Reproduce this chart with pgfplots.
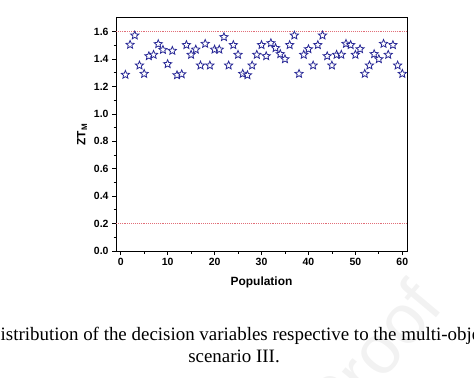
\documentclass[border=0pt]{standalone}
\usepackage{pgfplots}
\pgfplotsset{compat=1.18}
\usepackage{fontspec}
\setmainfont{Liberation Serif}
\setsansfont{Liberation Sans}
\definecolor{starblue}{RGB}{40,40,150}
\definecolor{bndred}{RGB}{225,110,120}
\pgfdeclareplotmark{ostar}{%
  \pgfpathmoveto{\pgfpointpolar{90}{\pgfplotmarksize}}%
  \pgfpathlineto{\pgfpointpolar{126}{0.45\pgfplotmarksize}}%
  \pgfpathlineto{\pgfpointpolar{162}{\pgfplotmarksize}}%
  \pgfpathlineto{\pgfpointpolar{198}{0.45\pgfplotmarksize}}%
  \pgfpathlineto{\pgfpointpolar{234}{\pgfplotmarksize}}%
  \pgfpathlineto{\pgfpointpolar{270}{0.45\pgfplotmarksize}}%
  \pgfpathlineto{\pgfpointpolar{306}{\pgfplotmarksize}}%
  \pgfpathlineto{\pgfpointpolar{342}{0.45\pgfplotmarksize}}%
  \pgfpathlineto{\pgfpointpolar{18}{\pgfplotmarksize}}%
  \pgfpathlineto{\pgfpointpolar{54}{0.45\pgfplotmarksize}}%
  \pgfpathclose
  \pgfusepathqfillstroke
}
\pgfplotstableread{
p v
1 1.286
2 1.505
3 1.573
4 1.354
5 1.293
6 1.422
7 1.432
8 1.510
9 1.468
10 1.364
11 1.461
12 1.283
13 1.290
14 1.503
15 1.432
16 1.470
17 1.354
18 1.512
19 1.354
20 1.470
21 1.470
22 1.561
23 1.354
24 1.503
25 1.432
26 1.293
27 1.283
28 1.354
29 1.432
30 1.503
31 1.422
32 1.517
33 1.481
34 1.437
35 1.400
36 1.503
37 1.573
38 1.293
39 1.432
40 1.473
41 1.354
42 1.503
43 1.573
44 1.422
45 1.354
46 1.432
47 1.432
48 1.512
49 1.503
50 1.432
51 1.473
52 1.293
53 1.354
54 1.437
55 1.400
56 1.512
57 1.432
58 1.503
59 1.354
60 1.293
}\datatable
\begin{document}
\begin{tikzpicture}[x=1bp,y=1bp]
\clip (0,0) rectangle (474,377);
\node[text=gray!10, font=\sffamily\fontsize{70}{70}\selectfont, rotate=50] at (372,22) {Proof};
\begin{axis}[
  at={(116bp,126bp)}, anchor=south west,
  scale only axis, width=291bp, height=233bp,
  xmin=-1, xmax=61, ymin=0, ymax=1.7,
  xtick={0,10,...,60}, minor xtick={5,15,...,55},
  ytick={0,0.2,...,1.6}, minor ytick={0.1,0.3,...,1.5},
  xtick pos=left, ytick pos=left,
  tick align=outside,
  major tick length=4bp, minor tick length=2.5bp,
  axis line style={line width=1bp},
  every tick/.style={black, line width=0.8bp},
  /pgf/number format/assume math mode=true,
  tick label style={font=\sffamily\bfseries\fontsize{10.5}{12}\selectfont},
  yticklabel style={/pgf/number format/fixed, /pgf/number format/fixed zerofill, /pgf/number format/precision=1},
  label style={font=\sffamily\bfseries\fontsize{12}{14}\selectfont},
  xlabel={Population},
  xlabel style={yshift=-4bp},
  ylabel={ZT\textsubscript{M}},
  clip=false,
]
\addplot[bndred, densely dotted, line width=0.9bp] coordinates {(-1,1.6) (61,1.6)};
\addplot[bndred, densely dotted, line width=0.9bp] coordinates {(-1,0.2) (61,0.2)};
\addplot[only marks, mark=ostar, mark size=4.3bp, mark options={draw=starblue, fill=white, line width=0.8bp}] table[x=p,y=v] {\datatable};
\end{axis}
\node[anchor=base west, font=\fontsize{19}{21}\selectfont, inner sep=0] at (0.5,37) {istribution of the decision variables respective to the multi-objective optimization};
\node[anchor=base, font=\fontsize{19}{21}\selectfont, inner sep=0] at (234,15) {scenario III.};
\end{tikzpicture}
\end{document}
